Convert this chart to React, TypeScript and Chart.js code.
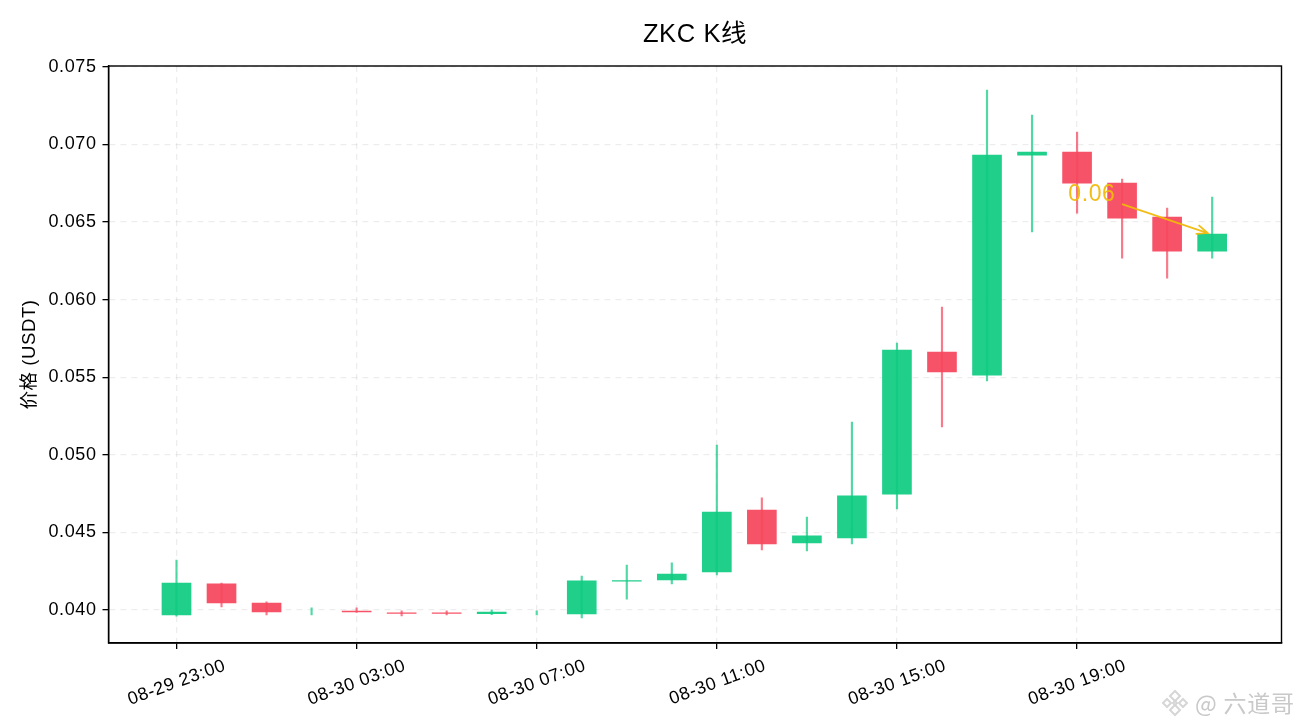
import React, { useEffect, useRef } from "react";
import { Chart, registerables } from "chart.js";

Chart.register(...registerables);

const categories = [
  "08-29 23:00", "08-30 00:00", "08-30 01:00", "08-30 02:00", "08-30 03:00", "08-30 04:00",
  "08-30 05:00", "08-30 06:00", "08-30 07:00", "08-30 08:00", "08-30 09:00", "08-30 10:00",
  "08-30 11:00", "08-30 12:00", "08-30 13:00", "08-30 14:00", "08-30 15:00", "08-30 16:00",
  "08-30 17:00", "08-30 18:00", "08-30 19:00", "08-30 20:00", "08-30 21:00", "08-30 22:00",
];
const opens = [0.03968, 0.04168, 0.04045, 0.0398, 0.03993, 0.03982, 0.03982, 0.03976, 0.0398, 0.03974, 0.04186, 0.04193, 0.04245, 0.04644, 0.04432, 0.04464, 0.04747, 0.05662, 0.05514, 0.06932, 0.06951, 0.06751, 0.06532, 0.06313];
const closes = [0.04174, 0.04045, 0.03987, 0.0398, 0.03988, 0.03977, 0.03977, 0.03987, 0.0398, 0.04187, 0.0419, 0.04232, 0.04631, 0.04425, 0.04477, 0.04735, 0.05675, 0.05534, 0.06932, 0.06951, 0.06751, 0.06526, 0.06313, 0.06423];
const highs = [0.04322, 0.04174, 0.04052, 0.04013, 0.04013, 0.03994, 0.03994, 0.04, 0.03995, 0.04219, 0.0429, 0.04303, 0.05063, 0.04722, 0.04599, 0.05211, 0.0572, 0.05952, 0.07351, 0.0719, 0.0708, 0.06777, 0.0659, 0.06661];
const lows = [0.0396, 0.04019, 0.03968, 0.03968, 0.03984, 0.03961, 0.03968, 0.0397, 0.03968, 0.03948, 0.0407, 0.04168, 0.04226, 0.04387, 0.0438, 0.04425, 0.04651, 0.05179, 0.05476, 0.06436, 0.06558, 0.06268, 0.06139, 0.06268];
const tickIndexes = [0, 4, 8, 12, 16, 20];
const priceTicks = [0.04, 0.045, 0.05, 0.055, 0.06, 0.065, 0.07, 0.075];
const annotationText = "0.06";
const annotationTextAt = [20.33, 0.06675];
const arrowFrom = [21, 0.06616];
const arrowTo = [22.9, 0.06429];

const GREEN = "14,203,129";
const RED = "246,70,93";
const GOLD = "#f0b90b";
const FONT = "'Liberation Sans', 'Noto Sans CJK SC', sans-serif";
const isUp = (i: number) => closes[i] >= opens[i];

const decorations = {
  id: "decorations",
  beforeDraw(chart: any) {
    chart.ctx.letterSpacing = "0.6px";
  },
  afterDraw(chart: any) {
    const { ctx, chartArea: a, scales } = chart;
    const x = scales.x, y = scales.y;
    ctx.save();
    ctx.fillStyle = GOLD;
    ctx.strokeStyle = GOLD;
    ctx.font = `23px ${FONT}`;
    ctx.textAlign = "center";
    ctx.textBaseline = "middle";
    ctx.globalAlpha = 0.95;
    ctx.fillText(annotationText, x.getPixelForValue(annotationTextAt[0]), y.getPixelForValue(annotationTextAt[1]));
    const x0 = x.getPixelForValue(arrowFrom[0]), y0 = y.getPixelForValue(arrowFrom[1]);
    const x1 = x.getPixelForValue(arrowTo[0]), y1 = y.getPixelForValue(arrowTo[1]);
    const ang = Math.atan2(y1 - y0, x1 - x0);
    ctx.lineWidth = 1.8;
    ctx.beginPath();
    ctx.moveTo(x0, y0);
    ctx.lineTo(x1, y1);
    const h = 12;
    ctx.moveTo(x1 + h * Math.cos(ang + 2.75), y1 + h * Math.sin(ang + 2.75));
    ctx.lineTo(x1, y1);
    ctx.lineTo(x1 + h * Math.cos(ang - 2.75), y1 + h * Math.sin(ang - 2.75));
    ctx.stroke();
    ctx.globalAlpha = 1;
    ctx.strokeStyle = "#000";
    ctx.lineWidth = 1.4;
    ctx.strokeRect(a.left, a.top, a.right - a.left, a.bottom - a.top);
    ctx.letterSpacing = "0.8px";
    ctx.fillStyle = "#c9c9c9";
    ctx.font = "23px 'Noto Sans CJK SC'";
    ctx.textAlign = "left";
    ctx.fillText("@ 六道哥", 1195, 703);
    const cx = 1175, cy = 703;
    const diamond = (dx: number, dy: number, r: number) => {
      ctx.beginPath();
      ctx.moveTo(cx + dx, cy + dy - r);
      ctx.lineTo(cx + dx + r, cy + dy);
      ctx.lineTo(cx + dx, cy + dy + r);
      ctx.lineTo(cx + dx - r, cy + dy);
      ctx.closePath();
      ctx.stroke();
    };
    ctx.strokeStyle = "#d6d6d6";
    ctx.lineWidth = 2;
    diamond(0, -7, 5);
    diamond(0, 7, 5);
    diamond(-8, 0, 4);
    diamond(8, 0, 4);
    diamond(0, 0, 2);
    ctx.restore();
  },
};

const gridStyle = {
  offset: false,
  color: "rgba(0,0,0,0.07)",
  tickColor: "#000",
  tickLength: 6,
  tickWidth: 1.3,
  lineWidth: 1.3,
};

export default function App() {
  const ref = useRef<HTMLCanvasElement>(null);
  useEffect(() => {
    const chart = new Chart(ref.current!, {
      type: "bar",
      plugins: [decorations],
      data: {
        datasets: [
          {
            label: "影线",
            data: categories.map((_, i) => ({ x: i, y: [lows[i], highs[i]] })),
            backgroundColor: categories.map((_, i) => `rgba(${isUp(i) ? GREEN : RED},0.72)`),
            barThickness: 1.5,
            grouped: false,
            order: 1,
          },
          {
            label: "实体",
            data: categories.map((_, i) => ({ x: i, y: opens[i] === closes[i] ? null : [opens[i], closes[i]] })),
            backgroundColor: categories.map((_, i) => `rgba(${isUp(i) ? GREEN : RED},0.93)`),
            barThickness: 29,
            grouped: false,
            order: 2,
          },
        ] as any,
      },
      options: {
        responsive: false,
        animation: false,
        devicePixelRatio: 1,
        layout: { padding: { right: 18.5, left: 0, top: 0, bottom: 0 } },
        plugins: {
          legend: { display: false },
          tooltip: { enabled: false },
          title: {
            display: true,
            fullSize: false,
            text: "ZKC K线",
            color: "#000",
            font: { family: FONT, size: 25.5, weight: "normal" },
            padding: { top: 20, bottom: 15.4 },
          },
        },
        scales: {
          x: {
            type: "linear",
            min: -1.51,
            max: 24.54,
            offset: false,
            afterBuildTicks(axis: any) {
              axis.ticks = tickIndexes.map((value) => ({ value }));
            },
            afterFit(axis: any) {
              axis.height = 85;
            },
            ticks: {
              autoSkip: false,
              minRotation: 20,
              maxRotation: 20,
              labelOffset: 48.5,
              padding: 6,
              color: "#000",
              font: { family: FONT, size: 18 },
              callback: (v: any) => categories[v as number] ?? "",
            },
            grid: gridStyle as any,
            border: { dash: [6, 5], color: "#000", width: 1.4 },
          },
          y: {
            type: "linear",
            min: 0.03787,
            max: 0.07506,
            afterBuildTicks(axis: any) {
              axis.ticks = priceTicks.map((value) => ({ value }));
            },
            afterFit(axis: any) {
              axis.width = 108.5;
            },
            title: {
              display: true,
              text: "价格 (USDT)",
              color: "#000",
              font: { family: FONT, size: 18.5 },
              padding: { top: 19, bottom: 0 },
            },
            ticks: {
              color: "#000",
              padding: 6,
              font: { family: FONT, size: 18 },
              callback: (v: any) => Number(v).toFixed(3),
            },
            grid: gridStyle as any,
            border: { dash: [6, 5], color: "#000", width: 1.4 },
          },
        },
      } as any,
    });
    return () => chart.destroy();
  }, []);
  return (
    <div style={{ position: "absolute", left: 0, top: 0, width: 1300, height: 728, background: "#fff" }}>
      <canvas ref={ref} width={1300} height={728} style={{ display: "block" }} />
    </div>
  );
}
